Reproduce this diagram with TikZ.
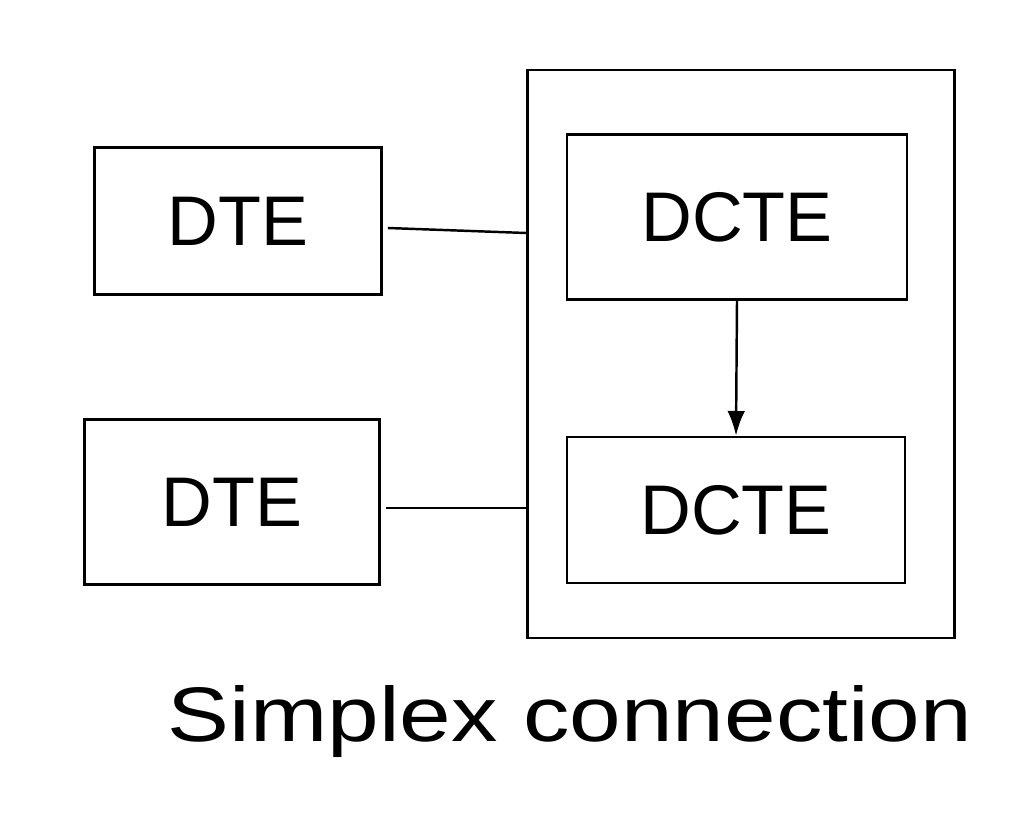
\documentclass[tikz,border=0pt]{standalone}
\usepackage{fontspec}
\usetikzlibrary{arrows.meta}
\setmainfont{Liberation Sans}
\begin{document}
\begin{tikzpicture}[x=0.02cm,y=-0.02cm,
  box/.style={draw,line width=1.6pt,inner sep=0pt,font=\fontsize{40}{44}\selectfont},
  conn/.style={line width=1.4pt}]
\useasboundingbox[fill=white] (0,0) rectangle (1024,828);
\node[box,minimum width=287*0.02cm,minimum height=147*0.02cm] (dte1) at (238,221) {DTE};
\node[box,minimum width=295*0.02cm,minimum height=165*0.02cm] (dte2) at (232,502) {DTE};
\node[draw,line width=1.6pt,minimum width=427*0.02cm,minimum height=568*0.02cm] (outer) at (741,354) {};
\node[box,minimum width=340*0.02cm,minimum height=165*0.02cm] (dcte1) at (737,217) {DCTE};
\node[box,minimum width=338*0.02cm,minimum height=146*0.02cm] (dcte2) at (736,510) {DCTE};
\draw[conn] (dte1.east) ++(5,7) -- (outer.west |- 0,233);
\draw[conn] (dte2.east) ++(5,6) -- (outer.west |- 0,508);
\draw[conn,-{Latex[length=14pt,width=10pt]}] (dcte1.south) -- (dcte2.north);
\node[font=\fontsize{44}{50}\selectfont,xscale=1.2] (cap) at (570,722) {Simplex connection};
\end{tikzpicture}
\end{document}
